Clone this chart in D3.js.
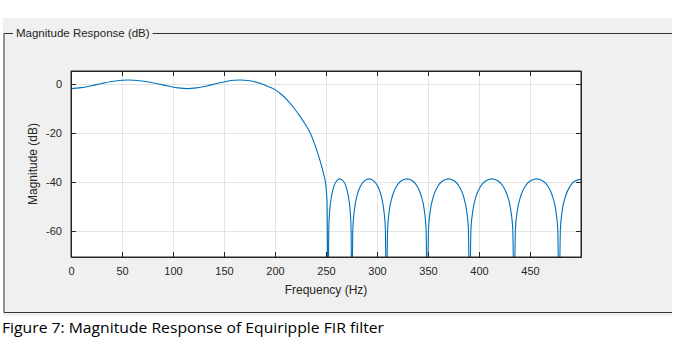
<!DOCTYPE html>
<html lang="en">
<head>
  <meta charset="UTF-8">
  <title>Magnitude Response</title>
  <script src="https://d3js.org/d3.v7.min.js"></script>
  <style>
    body { margin: 0; background: #fff; }
    .lbl { font-family: "Liberation Sans", Arial, sans-serif; fill: #262626; }
    .grid line { stroke: #e3e3e3; }
    .axis path, .axis line { stroke: #262626; }
    .axis text { font-family: "Liberation Sans", Arial, sans-serif; font-size: 11px; fill: #262626; }
    .caption { font-family: "Open Sans", "Noto Sans", sans-serif; font-size: 15px; fill: #000; }
  </style>
</head>
<body>
  <script>
    // values
    const freqHz = [0, 10, 20, 30, 40, 50, 57, 65, 75, 85, 95, 105, 114, 123, 133, 143, 153, 160, 166, 175, 185, 192, 200, 207, 214, 219, 224, 229, 234, 238, 242, 245, 247.5, 250, 251, 252,
      252.7, 253.6, 255.5, 257.8, 260.2, 263.2, 267.1, 269.5, 271.8, 273.7, 274.6, 275.3,
      276.3, 277.7, 280.4, 283.8, 287.2, 292.3, 297.3, 300.7, 304.1, 306.8, 308.2, 309.2,
      310.4, 312.0, 315.2, 319.2, 323.2, 329.3, 335.3, 339.3, 343.3, 346.5, 348.1, 349.3,
      350.5, 352.2, 355.5, 359.7, 363.8, 370.1, 376.3, 380.4, 384.6, 387.9, 389.6, 390.8,
      392.1, 393.9, 397.3, 401.7, 406.1, 412.6, 419.1, 423.5, 427.9, 431.3, 433.1, 434.4,
      435.7, 437.5, 441.0, 445.4, 449.8, 456.5, 463.1, 467.5, 471.9, 475.4, 477.2, 478.5,
      479.8, 481.5, 485.0, 489.3, 493.6, 500];
    const magDb = [-1.9, -1.5, -0.7, 0.2, 1.0, 1.5, 1.6, 1.45, 0.9, 0.1, -0.8, -1.6, -1.9, -1.6, -0.8, 0.2, 1.1, 1.5, 1.6, 1.3, 0.3, -0.8, -2.3, -4.5, -7.5, -10, -12.9, -16, -19.5, -23.5, -28.4, -32.5, -36.5, -42, -48, -90,
      -59.2, -51.9, -45.6, -41.7, -39.7, -38.7, -39.7, -41.7, -45.6, -51.9, -59.2, -90,
      -59.2, -51.9, -45.6, -41.7, -39.7, -38.7, -39.7, -41.7, -45.6, -51.9, -59.2, -90,
      -59.2, -51.9, -45.6, -41.7, -39.7, -38.7, -39.7, -41.7, -45.6, -51.9, -59.2, -90,
      -59.2, -51.9, -45.6, -41.7, -39.7, -38.7, -39.7, -41.7, -45.6, -51.9, -59.2, -90,
      -59.2, -51.9, -45.6, -41.7, -39.7, -38.7, -39.7, -41.7, -45.6, -51.9, -59.2, -90,
      -59.2, -51.9, -45.6, -41.7, -39.7, -38.7, -39.7, -41.7, -45.6, -51.9, -59.2, -90,
      -59.2, -51.9, -45.6, -41.7, -39.7, -38.8];
    const xTicks = [0, 50, 100, 150, 200, 250, 300, 350, 400, 450];
    const yTicks = [0, -20, -40, -60];

    const panelTitle = "Magnitude Response (dB)";
    const caption = "Figure 7: Magnitude Response of Equiripple FIR filter";

    const W = 683, H = 354;
    const plot = {left: 71, right: 581, top: 71, bottom: 257};

    const svg = d3.select("body").append("svg")
      .attr("width", W)
      .attr("height", H);

    // grey panel with frame
    svg.append("rect")
      .attr("x", 3).attr("y", 18)
      .attr("width", 669).attr("height", 298)
      .attr("fill", "#f0f0f0");

    const titleText = svg.append("text")
      .attr("class", "lbl")
      .attr("x", 16).attr("y", 37)
      .attr("font-size", 11.5)
      .text(panelTitle);
    const tw = titleText.node().getComputedTextLength();

    const frame = d3.path();
    frame.moveTo(4, 312.5); frame.lineTo(4, 33.5); frame.lineTo(13, 33.5);
    frame.moveTo(16 + tw + 3, 33.5); frame.lineTo(672, 33.5);
    frame.moveTo(4, 312.5); frame.lineTo(672, 312.5);
    svg.append("path")
      .attr("d", frame.toString())
      .attr("fill", "none")
      .attr("stroke", "#333");

    const x = d3.scaleLinear().domain([0, 500]).range([plot.left, plot.right]);
    const y = d3.scaleLinear().domain([-70.6, 5.3]).range([plot.bottom, plot.top]);
    const pw = plot.right - plot.left, ph = plot.bottom - plot.top;

    svg.append("rect")
      .attr("x", plot.left).attr("y", plot.top)
      .attr("width", pw).attr("height", ph)
      .attr("fill", "#fff");

    // grid
    svg.append("g")
      .attr("class", "grid")
      .attr("transform", `translate(0,${plot.bottom})`)
      .call(d3.axisBottom(x).tickValues(xTicks).tickSize(-ph).tickFormat(""))
      .call(g => g.select(".domain").remove());
    svg.append("g")
      .attr("class", "grid")
      .attr("transform", `translate(${plot.left},0)`)
      .call(d3.axisLeft(y).tickValues(yTicks).tickSize(-pw).tickFormat(""))
      .call(g => g.select(".domain").remove());

    // response curve
    svg.append("clipPath").attr("id", "clip")
      .append("rect")
      .attr("x", plot.left).attr("y", plot.top)
      .attr("width", pw).attr("height", ph);

    const line = d3.line()
      .x((d, i) => x(freqHz[i]))
      .y(d => y(d))
      .curve(d3.curveMonotoneX);

    svg.append("path")
      .datum(magDb)
      .attr("clip-path", "url(#clip)")
      .attr("fill", "none")
      .attr("stroke", "#0072bd")
      .attr("stroke-width", 1.1)
      .attr("d", line);

    // axes, ticks inside on all four sides
    svg.append("g")
      .attr("class", "axis")
      .attr("transform", `translate(0,${plot.bottom})`)
      .call(d3.axisBottom(x).tickValues(xTicks).tickSizeInner(-5).tickSizeOuter(0).tickPadding(10));

    svg.append("g")
      .attr("class", "axis")
      .attr("transform", `translate(${plot.left},0)`)
      .call(d3.axisLeft(y).tickValues(yTicks).tickSizeInner(-5).tickSizeOuter(0).tickPadding(9)
        .tickFormat(d => String(d)));

    svg.append("g")
      .attr("class", "axis")
      .attr("transform", `translate(0,${plot.top})`)
      .call(d3.axisTop(x).tickValues(xTicks).tickSizeInner(-5).tickSizeOuter(0).tickFormat(""));
    svg.append("g")
      .attr("class", "axis")
      .attr("transform", `translate(${plot.right},0)`)
      .call(d3.axisRight(y).tickValues(yTicks).tickSizeInner(-5).tickSizeOuter(0).tickFormat(""));

    svg.append("rect")
      .attr("x", plot.left).attr("y", plot.top)
      .attr("width", pw).attr("height", ph)
      .attr("fill", "none")
      .attr("stroke", "#262626");

    // axis labels
    svg.append("text")
      .attr("class", "lbl")
      .attr("x", (plot.left + plot.right) / 2)
      .attr("y", 294)
      .attr("text-anchor", "middle")
      .attr("font-size", 12)
      .text("Frequency (Hz)");

    svg.append("text")
      .attr("class", "lbl")
      .attr("transform", `translate(37,${(plot.top + plot.bottom) / 2}) rotate(-90)`)
      .attr("text-anchor", "middle")
      .attr("font-size", 12)
      .text("Magnitude (dB)");

    // figure caption below the panel
    svg.append("text")
      .attr("class", "caption")
      .attr("x", 2)
      .attr("y", 333)
      .attr("textLength", 382)
      .attr("lengthAdjust", "spacingAndGlyphs")
      .text(caption);
  </script>
</body>
</html>
